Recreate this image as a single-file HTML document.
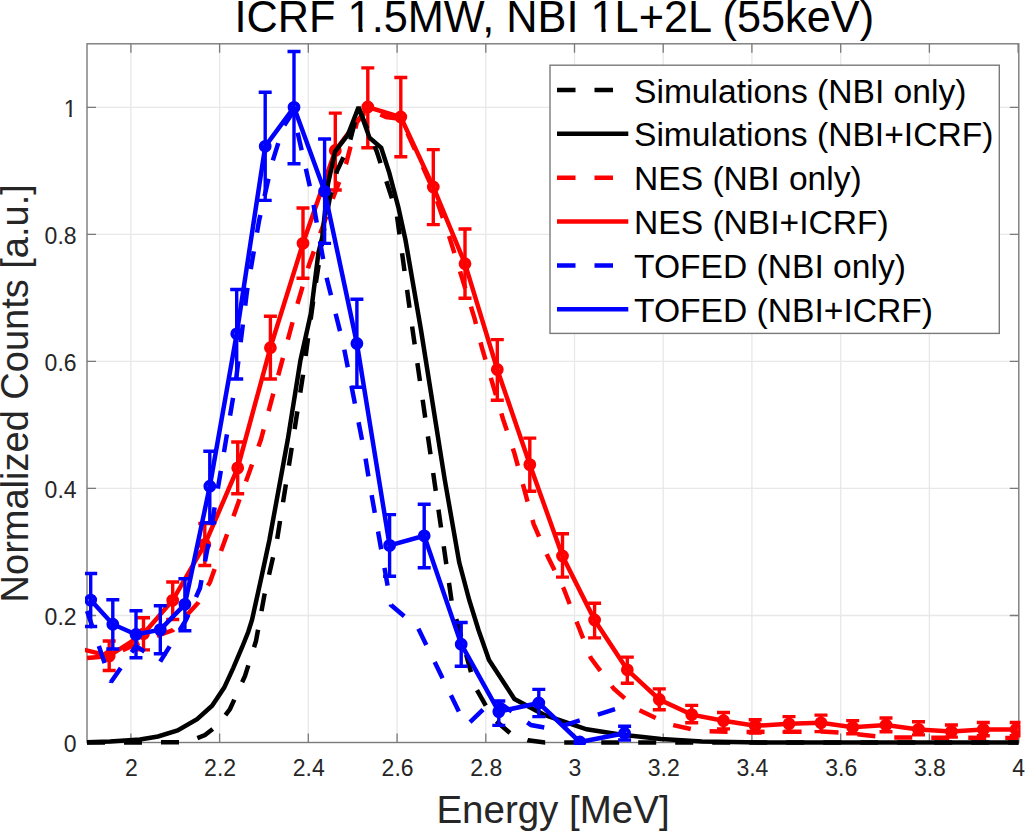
<!DOCTYPE html>
<html><head><meta charset="utf-8"><style>
html,body{margin:0;padding:0;background:#fff;width:1025px;height:832px;overflow:hidden}
svg{display:block;font-family:"Liberation Sans", sans-serif}
</style></head><body>
<svg width="1025" height="832" viewBox="0 0 1025 832">
<rect width="1025" height="832" fill="#fff"/>
<path d="M130.9 43.8V742.5 M219.6 43.8V742.5 M308.3 43.8V742.5 M397.1 43.8V742.5 M485.8 43.8V742.5 M574.5 43.8V742.5 M663.2 43.8V742.5 M751.9 43.8V742.5 M840.7 43.8V742.5 M929.4 43.8V742.5 M87.0 615.5H1018.8 M87.0 488.4H1018.8 M87.0 361.4H1018.8 M87.0 234.3H1018.8 M87.0 107.3H1018.8" stroke="#e8e8e8" stroke-width="1.3" fill="none"/>
<path d="M130.9 742.5v-9M130.9 43.8v9 M219.6 742.5v-9M219.6 43.8v9 M308.3 742.5v-9M308.3 43.8v9 M397.1 742.5v-9M397.1 43.8v9 M485.8 742.5v-9M485.8 43.8v9 M574.5 742.5v-9M574.5 43.8v9 M663.2 742.5v-9M663.2 43.8v9 M751.9 742.5v-9M751.9 43.8v9 M840.7 742.5v-9M840.7 43.8v9 M929.4 742.5v-9M929.4 43.8v9 M1018.1 742.5v-9M1018.1 43.8v9 M87.0 742.5h9M1018.8 742.5h-9 M87.0 615.5h9M1018.8 615.5h-9 M87.0 488.4h9M1018.8 488.4h-9 M87.0 361.4h9M1018.8 361.4h-9 M87.0 234.3h9M1018.8 234.3h-9 M87.0 107.3h9M1018.8 107.3h-9" stroke="#7a7a7a" stroke-width="1.3" fill="none"/>
<rect x="87.0" y="43.8" width="931.8" height="698.7" fill="none" stroke="#7a7a7a" stroke-width="1.4"/>
<defs><clipPath id="ax"><rect x="85" y="41.5" width="935.5" height="703.5"/></clipPath></defs>
<g clip-path="url(#ax)" fill="none" stroke-linejoin="miter" stroke-miterlimit="2">
<path d="M87.0 658.0 L109.2 656.0 L143.5 641.0 L173.0 630.0 L198.0 603.0 L210.0 582.0 L235.0 512.0 L260.8 440.0 L298.0 302.0 L309.0 265.0 L333.0 198.0 L346.0 164.0 L357.0 122.0 L368.0 109.0 L386.0 117.0 L401.0 119.0 L433.3 190.0 L449.6 237.7 L474.6 318.5 L482.0 348.0 L503.0 419.0 L514.6 453.8 L533.7 524.2 L548.0 557.0 L563.8 588.8 L577.3 623.5 L590.8 658.0 L604.0 675.6 L613.8 688.8 L637.0 709.0 L668.0 724.0 L700.0 731.0 L743.0 732.0 L822.0 731.5 L852.0 733.5 L886.0 737.5 L1018.5 738.0" stroke="#f00" stroke-width="4.5" stroke-dasharray="18 19"/>
<path d="M77.0 648.0 L109.2 655.9 L143.5 633.8 L172.7 600.3 L204.8 544.5 L237.7 467.9 L270.4 347.7 L303.0 243.3 L335.3 150.5 L367.8 107.0 L400.8 117.0 L433.3 187.0 L465.0 263.7 L497.3 369.5 L529.8 464.6 L562.5 556.0 L594.6 620.0 L627.3 669.8 L659.3 699.5 L691.7 714.6 L723.5 720.7 L755.2 725.8 L789.0 723.8 L821.0 722.8 L852.7 727.2 L886.0 725.0 L918.5 729.4 L951.4 731.6 L983.3 729.4 L1016.2 729.4" stroke="#f00" stroke-width="4.5"/>
<path d="M109.2 641.0V670.5M102.7 641.0h13M102.7 670.5h13 M143.5 617.7V649.9M137.0 617.7h13M137.0 649.9h13 M172.7 582.0V619.5M166.2 582.0h13M166.2 619.5h13 M204.8 523.5V565.5M198.3 523.5h13M198.3 565.5h13 M237.7 442.0V493.8M231.2 442.0h13M231.2 493.8h13 M270.4 316.2V379.0M263.9 316.2h13M263.9 379.0h13 M303.0 208.0V278.3M296.5 208.0h13M296.5 278.3h13 M335.3 113.1V190.0M328.8 113.1h13M328.8 190.0h13 M367.8 67.9V147.7M361.3 67.9h13M361.3 147.7h13 M400.8 77.5V156.7M394.3 77.5h13M394.3 156.7h13 M433.3 149.6V224.6M426.8 149.6h13M426.8 224.6h13 M465.0 229.0V298.3M458.5 229.0h13M458.5 298.3h13 M497.3 339.6V400.2M490.8 339.6h13M490.8 400.2h13 M529.8 438.1V491.2M523.3 438.1h13M523.3 491.2h13 M562.5 533.8V577.1M556.0 533.8h13M556.0 577.1h13 M594.6 603.3V637.9M588.1 603.3h13M588.1 637.9h13 M627.3 657.1V683.2M620.8 657.1h13M620.8 683.2h13 M659.3 688.9V709.8M652.8 688.9h13M652.8 709.8h13 M691.7 705.4V722.7M685.2 705.4h13M685.2 722.7h13 M723.5 712.5V728.9M717.0 712.5h13M717.0 728.9h13 M755.2 719.7V733.0M748.7 719.7h13M748.7 733.0h13 M789.0 716.6V732.0M782.5 716.6h13M782.5 732.0h13 M821.0 715.1V731.6M814.5 715.1h13M814.5 731.6h13 M852.7 720.6V733.8M846.2 720.6h13M846.2 733.8h13 M886.0 718.0V731.7M879.5 718.0h13M879.5 731.7h13 M918.5 721.7V734.9M912.0 721.7h13M912.0 734.9h13 M951.4 725.0V737.1M944.9 725.0h13M944.9 737.1h13 M983.3 722.5V735.8M976.8 722.5h13M976.8 735.8h13 M1016.2 722.5V735.8M1009.7 722.5h13M1009.7 735.8h13" stroke="#f00" stroke-width="3.4"/>
<g stroke="#f00" stroke-width="4.2"><circle cx="109.2" cy="655.9" r="4.3"/><circle cx="143.5" cy="633.8" r="4.3"/><circle cx="172.7" cy="600.3" r="4.3"/><circle cx="204.8" cy="544.5" r="4.3"/><circle cx="237.7" cy="467.9" r="4.3"/><circle cx="270.4" cy="347.7" r="4.3"/><circle cx="303.0" cy="243.3" r="4.3"/><circle cx="335.3" cy="150.5" r="4.3"/><circle cx="367.8" cy="107.0" r="4.3"/><circle cx="400.8" cy="117.0" r="4.3"/><circle cx="433.3" cy="187.0" r="4.3"/><circle cx="465.0" cy="263.7" r="4.3"/><circle cx="497.3" cy="369.5" r="4.3"/><circle cx="529.8" cy="464.6" r="4.3"/><circle cx="562.5" cy="556.0" r="4.3"/><circle cx="594.6" cy="620.0" r="4.3"/><circle cx="627.3" cy="669.8" r="4.3"/><circle cx="659.3" cy="699.5" r="4.3"/><circle cx="691.7" cy="714.6" r="4.3"/><circle cx="723.5" cy="720.7" r="4.3"/><circle cx="755.2" cy="725.8" r="4.3"/><circle cx="789.0" cy="723.8" r="4.3"/><circle cx="821.0" cy="722.8" r="4.3"/><circle cx="852.7" cy="727.2" r="4.3"/><circle cx="886.0" cy="725.0" r="4.3"/><circle cx="918.5" cy="729.4" r="4.3"/><circle cx="951.4" cy="731.6" r="4.3"/><circle cx="983.3" cy="729.4" r="4.3"/><circle cx="1016.2" cy="729.4" r="4.3"/></g>
<path d="M87.0 742.5 L180.0 742.3 L190.0 741.0 L205.0 735.0 L218.0 725.0 L230.0 709.0 L245.0 676.0 L256.0 641.0 L264.3 595.6 L277.0 540.0 L290.6 455.0 L303.0 375.0 L314.0 295.0 L324.0 230.0 L329.8 198.0 L337.0 171.0 L348.7 145.9 L358.6 108.0 L376.7 151.3 L396.5 212.5 L412.0 325.8 L433.3 473.8 L452.0 603.8 L475.0 686.5 L493.0 718.5 L512.4 735.1 L528.0 740.3 L545.0 742.5 L1018.5 742.5" stroke="#000" stroke-width="4.5" stroke-dasharray="18 19"/>
<path d="M87.0 742.3 L110.0 741.5 L140.0 739.5 L158.0 736.5 L177.6 730.5 L197.1 719.2 L212.1 705.7 L224.2 687.6 L233.2 668.1 L242.2 647.0 L248.2 632.0 L252.0 620.0 L261.8 575.4 L269.4 540.0 L287.7 440.0 L300.5 360.0 L310.8 313.8 L318.5 252.3 L322.3 237.0 L328.0 183.7 L335.2 151.3 L347.8 135.0 L358.6 107.1 L369.5 137.7 L381.2 147.7 L389.3 172.9 L398.3 207.1 L405.5 240.0 L421.0 330.0 L444.8 480.0 L459.2 562.3 L469.2 600.0 L478.5 630.0 L489.0 660.0 L514.4 699.0 L543.7 714.6 L586.6 729.3 L620.0 734.5 L661.0 739.0 L702.0 741.5 L760.0 742.5 L1018.5 742.5" stroke="#000" stroke-width="4.5"/>
<path d="M87.0 611.0 L111.0 682.0 L136.0 646.0 L160.0 662.0 L186.0 620.0 L200.0 588.0 L210.0 535.0 L226.0 440.0 L236.0 380.0 L247.0 291.0 L259.0 221.0 L272.0 163.0 L283.5 126.5 L293.0 112.0 L312.0 196.0 L326.0 275.4 L343.0 343.0 L365.0 455.0 L369.0 480.0 L391.0 605.0 L418.0 628.0 L464.0 722.0 L468.0 724.0 L494.0 699.0 L531.0 725.0 L553.0 729.0 L624.6 706.0" stroke="#00f" stroke-width="4.5" stroke-dasharray="18 19"/>
<path d="M90.7 600.1 L112.8 624.2 L136.0 634.5 L160.3 629.6 L184.9 604.3 L209.8 486.2 L236.7 333.8 L265.2 146.3 L294.0 107.3 L324.6 191.3 L356.9 343.5 L389.6 545.4 L424.2 535.8 L461.2 644.2 L498.8 711.6 L538.8 703.0 L579.8 742.0 L624.6 733.2" stroke="#00f" stroke-width="4.5"/>
<path d="M90.7 573.5V626.5M84.2 573.5h13M84.2 626.5h13 M112.8 599.7V649.0M106.3 599.7h13M106.3 649.0h13 M136.0 610.8V657.8M129.5 610.8h13M129.5 657.8h13 M160.3 605.8V653.8M153.8 605.8h13M153.8 653.8h13 M184.9 578.7V630.7M178.4 578.7h13M178.4 630.7h13 M209.8 451.2V522.7M203.3 451.2h13M203.3 522.7h13 M236.7 289.5V379.0M230.2 289.5h13M230.2 379.0h13 M265.2 92.3V200.4M258.7 92.3h13M258.7 200.4h13 M294.0 51.5V163.7M287.5 51.5h13M287.5 163.7h13 M324.6 139.0V243.4M318.1 139.0h13M318.1 243.4h13 M356.9 299.2V387.3M350.4 299.2h13M350.4 387.3h13 M389.6 514.6V576.2M383.1 514.6h13M383.1 576.2h13 M424.2 504.2V567.7M417.7 504.2h13M417.7 567.7h13 M461.2 622.5V666.3M454.7 622.5h13M454.7 666.3h13 M498.8 701.0V725.4M492.3 701.0h13M492.3 725.4h13 M538.8 689.4V716.6M532.3 689.4h13M532.3 716.6h13 M624.6 726.3V740.0M618.1 726.3h13M618.1 740.0h13" stroke="#00f" stroke-width="3.4"/>
<g stroke="#00f" stroke-width="4.2"><circle cx="90.7" cy="600.1" r="4.3"/><circle cx="112.8" cy="624.2" r="4.3"/><circle cx="136.0" cy="634.5" r="4.3"/><circle cx="160.3" cy="629.6" r="4.3"/><circle cx="184.9" cy="604.3" r="4.3"/><circle cx="209.8" cy="486.2" r="4.3"/><circle cx="236.7" cy="333.8" r="4.3"/><circle cx="265.2" cy="146.3" r="4.3"/><circle cx="294.0" cy="107.3" r="4.3"/><circle cx="324.6" cy="191.3" r="4.3"/><circle cx="356.9" cy="343.5" r="4.3"/><circle cx="389.6" cy="545.4" r="4.3"/><circle cx="424.2" cy="535.8" r="4.3"/><circle cx="461.2" cy="644.2" r="4.3"/><circle cx="498.8" cy="711.6" r="4.3"/><circle cx="538.8" cy="703.0" r="4.3"/><circle cx="579.8" cy="742.0" r="4.3"/><circle cx="624.6" cy="733.2" r="4.3"/></g>
</g>
<g font-size="23" fill="#262626"><text x="131.4" y="776.3" text-anchor="middle">2</text><text x="220.1" y="776.3" text-anchor="middle">2.2</text><text x="308.8" y="776.3" text-anchor="middle">2.4</text><text x="397.6" y="776.3" text-anchor="middle">2.6</text><text x="486.3" y="776.3" text-anchor="middle">2.8</text><text x="575.0" y="776.3" text-anchor="middle">3</text><text x="663.7" y="776.3" text-anchor="middle">3.2</text><text x="752.4" y="776.3" text-anchor="middle">3.4</text><text x="841.2" y="776.3" text-anchor="middle">3.6</text><text x="929.9" y="776.3" text-anchor="middle">3.8</text><text x="1018.6" y="776.3" text-anchor="middle">4</text><text x="76.6" y="751.9" text-anchor="end">0</text><text x="76.6" y="624.9" text-anchor="end">0.2</text><text x="76.6" y="497.8" text-anchor="end">0.4</text><text x="76.6" y="370.8" text-anchor="end">0.6</text><text x="76.6" y="243.7" text-anchor="end">0.8</text><text x="76.6" y="116.7" text-anchor="end">1</text></g>
<text x="553" y="823" text-anchor="middle" font-size="38.5" fill="#262626">Energy [MeV]</text>
<text transform="translate(27.7 393.3) rotate(-90)" text-anchor="middle" font-size="38" fill="#262626">Normalized Counts [a.u.]</text>
<text x="554.3" y="32" text-anchor="middle" font-size="43.5" fill="#000" textLength="639.5" lengthAdjust="spacingAndGlyphs">ICRF 1.5MW, NBI 1L+2L (55keV)</text>
<g fill="#fff"><rect x="349.5" y="27.6" width="9" height="5"/><rect x="362.6" y="27.6" width="8" height="5"/><rect x="592.5" y="27.6" width="9" height="5"/><rect x="605.6" y="27.6" width="8" height="5"/><rect x="64.3" y="114.6" width="5" height="2.8"/><rect x="71.7" y="114.6" width="5" height="2.8"/></g>
<g><rect x="550" y="65.2" width="449.3" height="268.2" fill="#fff" stroke="#7a7a7a" stroke-width="1.4"/><path d="M557 90.0h18.5M594.5 90.0h18.5" stroke="#000" stroke-width="4.5"/><text x="634" y="102.6" font-size="33" fill="#000" textLength="332.4" lengthAdjust="spacingAndGlyphs">Simulations (NBI only)</text><path d="M557 133.8H628.3" stroke="#000" stroke-width="4.5"/><text x="634" y="146.4" font-size="33" fill="#000" textLength="359.4" lengthAdjust="spacingAndGlyphs">Simulations (NBI+ICRF)</text><path d="M557 177.7h18.5M594.5 177.7h18.5" stroke="#f00" stroke-width="4.5"/><text x="634" y="190.3" font-size="33" fill="#000" textLength="227.7" lengthAdjust="spacingAndGlyphs">NES (NBI only)</text><path d="M557 221.6H628.3" stroke="#f00" stroke-width="4.5"/><text x="634" y="234.2" font-size="33" fill="#000" textLength="254.8" lengthAdjust="spacingAndGlyphs">NES (NBI+ICRF)</text><path d="M557 265.4h18.5M594.5 265.4h18.5" stroke="#00f" stroke-width="4.5"/><text x="634" y="278.0" font-size="33" fill="#000" textLength="271.9" lengthAdjust="spacingAndGlyphs">TOFED (NBI only)</text><path d="M557 309.2H628.3" stroke="#00f" stroke-width="4.5"/><text x="634" y="321.9" font-size="33" fill="#000" textLength="299.0" lengthAdjust="spacingAndGlyphs">TOFED (NBI+ICRF)</text></g>
</svg></body></html>
